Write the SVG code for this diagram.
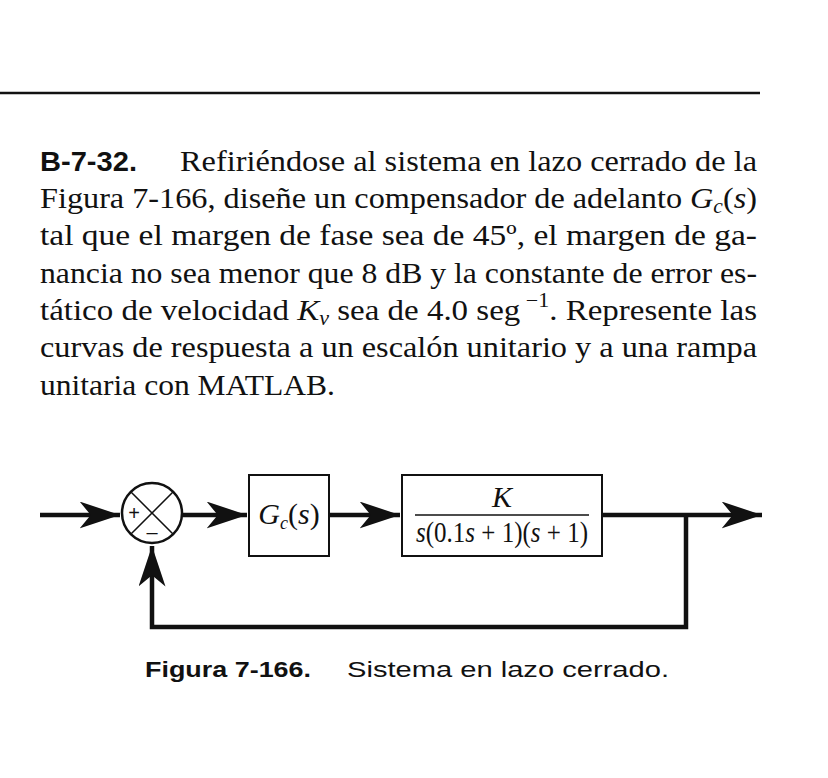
<svg xmlns="http://www.w3.org/2000/svg" width="828" height="778" viewBox="0 0 828 778">
<style>
.t{font-family:"Liberation Serif","Times New Roman",serif;font-size:30px;fill:#111}
.i{font-style:italic}
.ln{stroke:#111;stroke-width:4.5;fill:none}
.thin{stroke:#111;stroke-width:1.5;fill:none}
.box{stroke:#111;stroke-width:2;fill:#fff}
.cap{font-family:"Liberation Sans",sans-serif;font-size:22px;fill:#111}
</style>
<defs>
<marker id="ah" markerWidth="9" markerHeight="6" refX="9" refY="3" orient="auto" markerUnits="strokeWidth"><path d="M0,0 L9,3 L0,6 L2.5,3 Z" fill="#111"/></marker>
</defs>
<rect width="828" height="778" fill="#fff"/>
<line x1="0" y1="93" x2="760" y2="93" stroke="#111" stroke-width="2.5"/>
<text x="40" y="171" font-family="Liberation Sans,sans-serif" font-weight="bold" font-size="27" fill="#111" textLength="97" lengthAdjust="spacingAndGlyphs">B-7-32.</text>
<text class="t" y="171" x="180" textLength="577" lengthAdjust="spacingAndGlyphs">Refiriéndose al sistema en lazo cerrado de la</text>
<text class="t" y="208" x="40" textLength="717" lengthAdjust="spacingAndGlyphs">Figura 7-166, diseñe un compensador de adelanto <tspan class="i">G</tspan><tspan class="i" font-size="20" dy="5">c</tspan><tspan dy="-5">(</tspan><tspan class="i">s</tspan>)</text>
<text class="t" y="245" x="40" textLength="717" lengthAdjust="spacingAndGlyphs">tal que el margen de fase sea de 45º, el margen de ga-</text>
<text class="t" y="283" x="40" textLength="717" lengthAdjust="spacingAndGlyphs">nancia no sea menor que 8 dB y la constante de error es-</text>
<text class="t" y="320" x="40" textLength="717" lengthAdjust="spacingAndGlyphs">tático de velocidad <tspan class="i">K</tspan><tspan class="i" font-size="20" dy="5">v</tspan><tspan dy="-5"> sea de 4.0 seg</tspan><tspan font-size="20" dy="-13"> −1</tspan><tspan dy="13">. Represente las</tspan></text>
<text class="t" y="357" x="40" textLength="717" lengthAdjust="spacingAndGlyphs">curvas de respuesta a un escalón unitario y a una rampa</text>
<text class="t" y="395" x="40" textLength="295" lengthAdjust="spacingAndGlyphs">unitaria con MATLAB.</text>

<g id="connectors">
<line class="ln" x1="40" y1="515" x2="120" y2="515" marker-end="url(#ah)"/>
<line class="ln" x1="182" y1="515" x2="247" y2="515" marker-end="url(#ah)"/>
<line class="ln" x1="329" y1="515" x2="400" y2="515" marker-end="url(#ah)"/>
<line class="ln" x1="602" y1="515" x2="762" y2="515" marker-end="url(#ah)"/>
<polyline class="ln" points="686,515 686,627 152,627 152,546" marker-end="url(#ah)"/>
</g>
<g id="sum">
<circle cx="152" cy="513" r="30" stroke="#111" stroke-width="2.5" fill="#fff"/>
<line class="thin" x1="131" y1="492" x2="173" y2="534"/>
<line class="thin" x1="173" y1="492" x2="131" y2="534"/>
<text x="134" y="520" font-family="Liberation Sans,sans-serif" font-size="20" fill="#111" text-anchor="middle">+</text>
<text x="152" y="539" font-family="Liberation Sans,sans-serif" font-size="20" fill="#111" text-anchor="middle">–</text>
</g>
<g id="gc">
<rect class="box" x="249" y="475" width="80" height="81"/>
<text class="t i" x="289" y="524" text-anchor="middle" font-size="26">G<tspan font-size="18" dy="5">c</tspan><tspan dy="-5" font-style="normal">(</tspan>s<tspan font-style="normal">)</tspan></text>
</g>
<g id="plant">
<rect class="box" x="402" y="475" width="200" height="81"/>
<text class="t i" x="502" y="507" text-anchor="middle" font-size="25">K</text>
<line x1="415" y1="515" x2="589" y2="515" stroke="#111" stroke-width="1.5"/>
<text class="t" x="416" y="542" font-size="25" textLength="172" lengthAdjust="spacingAndGlyphs"><tspan class="i">s</tspan>(0.1<tspan class="i">s</tspan> + 1)(<tspan class="i">s</tspan> + 1)</text>
</g>
<text class="cap" x="145" y="677" font-weight="bold" textLength="166" lengthAdjust="spacingAndGlyphs">Figura 7-166.</text>
<text class="cap" x="347" y="677" textLength="322" lengthAdjust="spacingAndGlyphs">Sistema en lazo cerrado.</text>
</svg>
